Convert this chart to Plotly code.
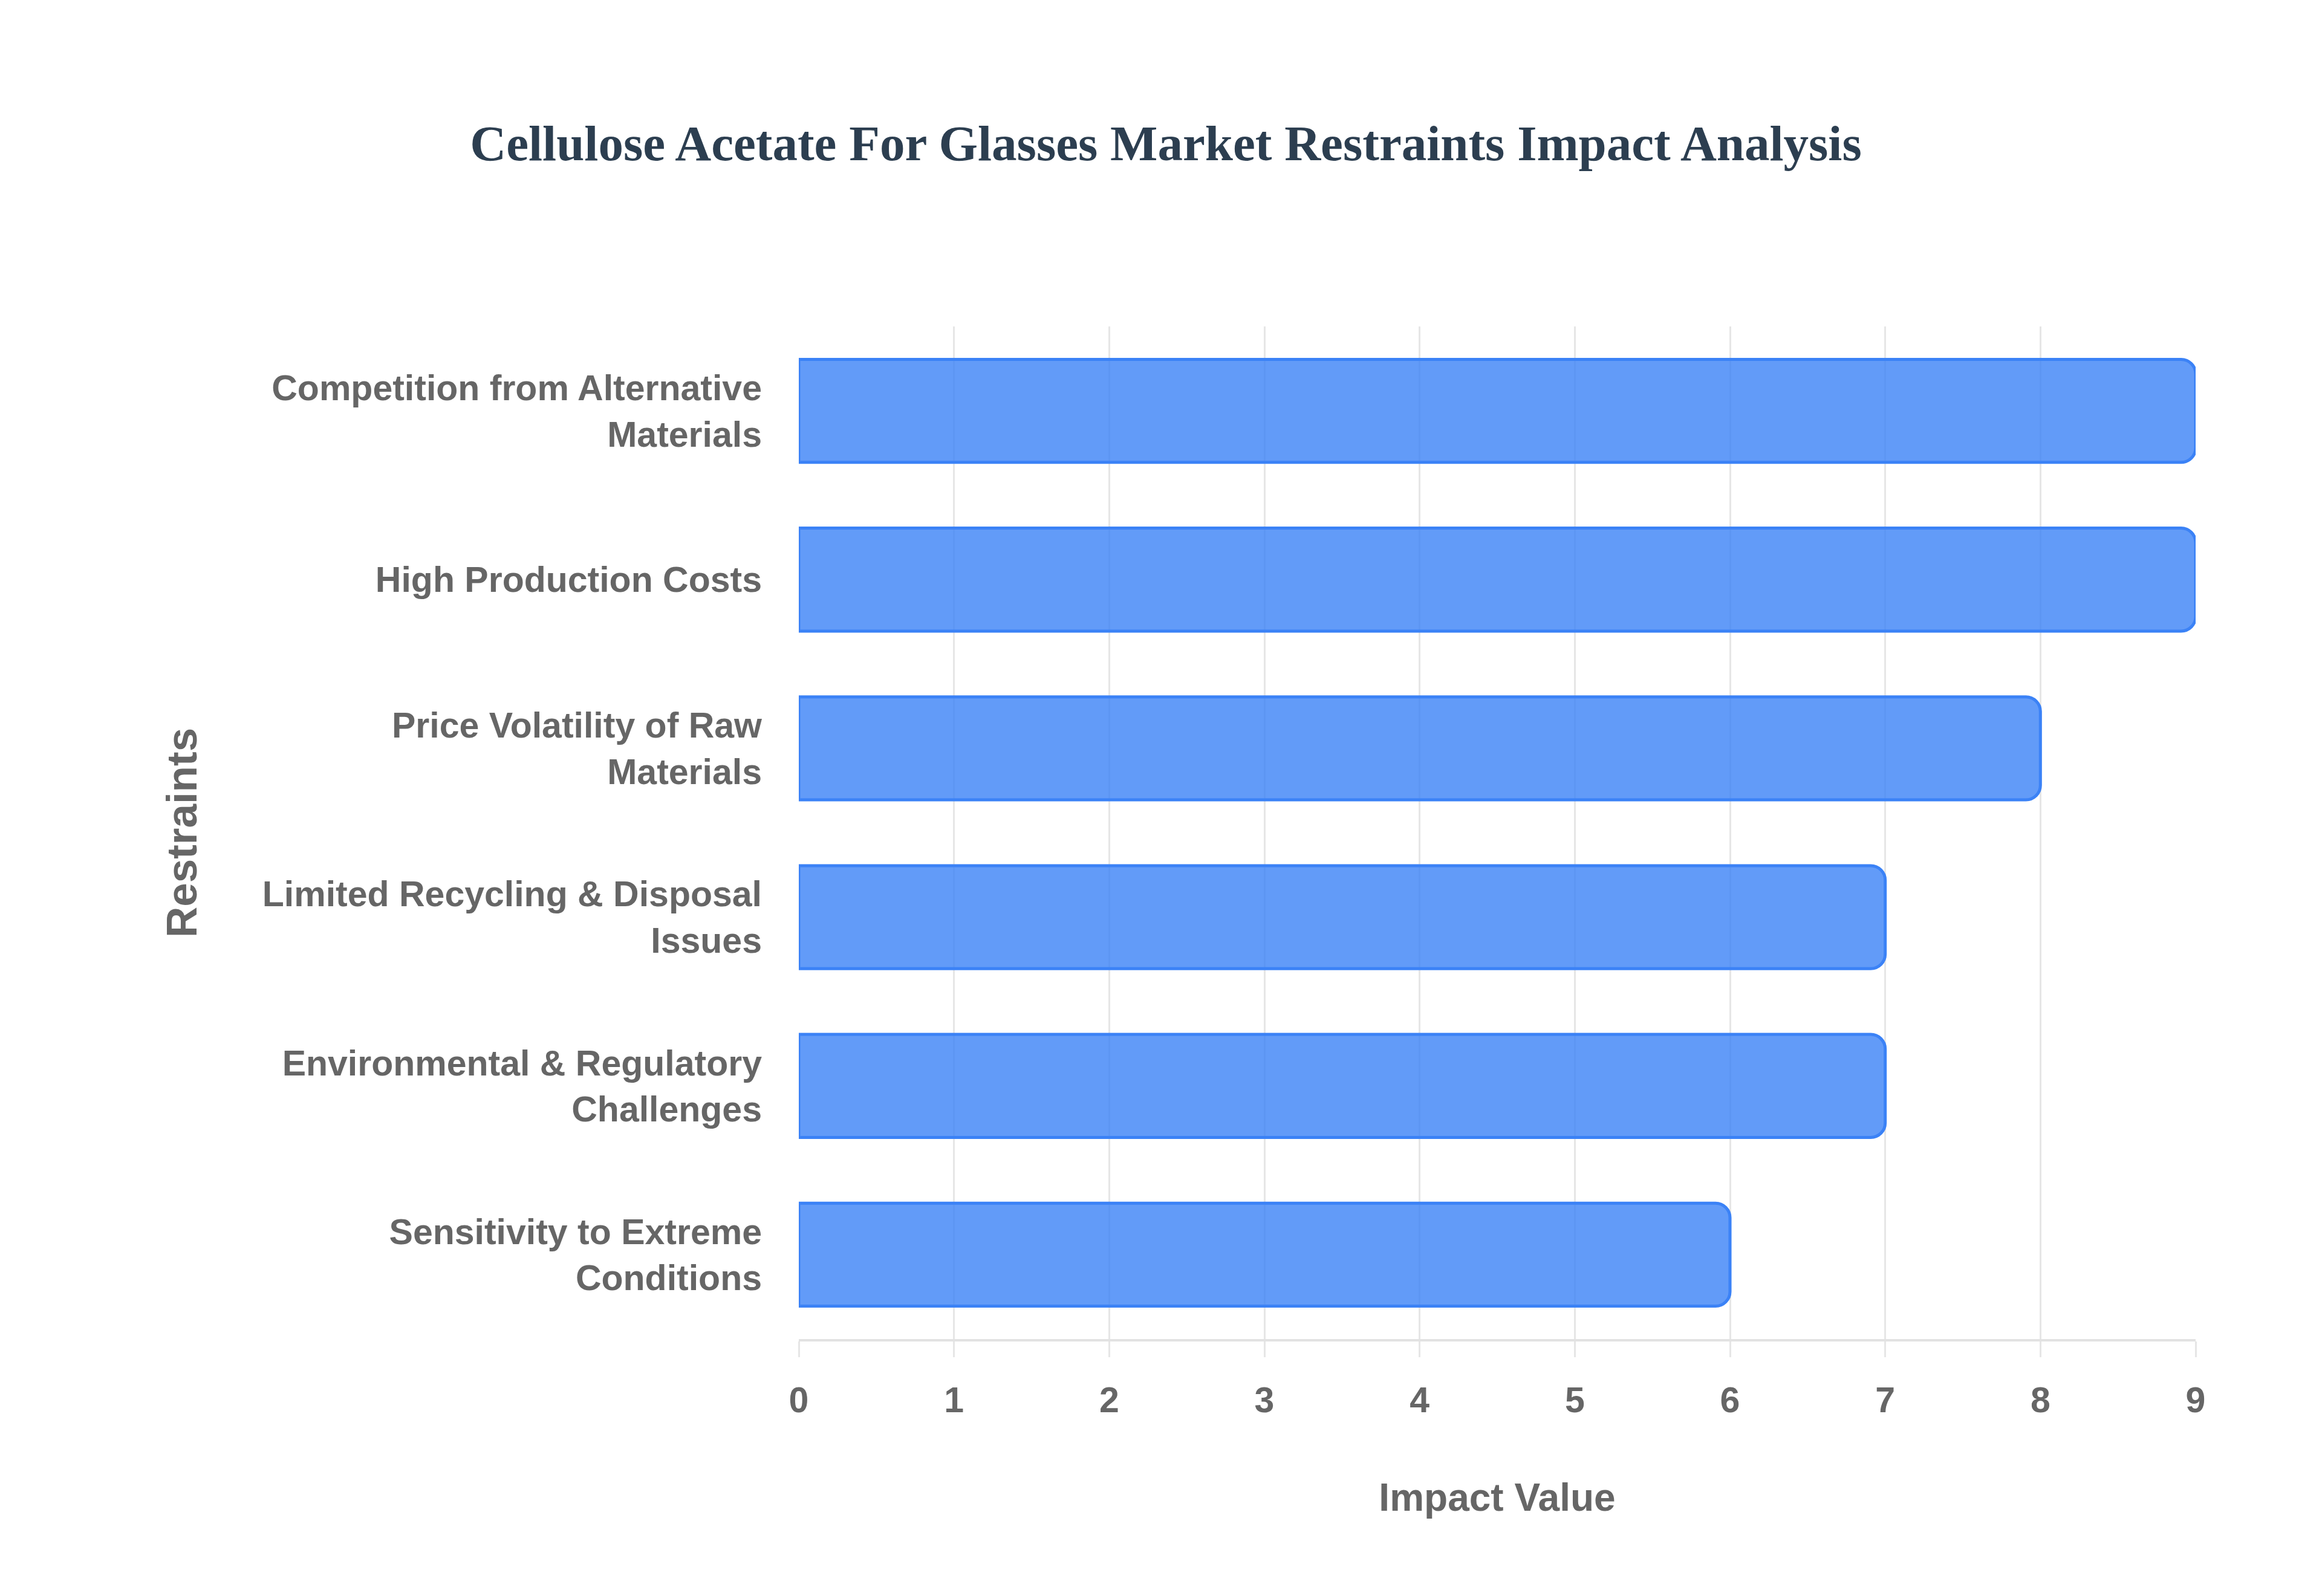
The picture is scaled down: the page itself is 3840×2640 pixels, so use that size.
import plotly.graph_objects as go

# chart data, listed top to bottom as in the picture
restraints = [
    "Competition from Alternative<br>Materials",
    "High Production Costs",
    "Price Volatility of Raw<br>Materials",
    "Limited Recycling & Disposal<br>Issues",
    "Environmental & Regulatory<br>Challenges",
    "Sensitivity to Extreme<br>Conditions",
]
impact = [9, 9, 8, 7, 7, 6]
x_ticks = [0, 1, 2, 3, 4, 5, 6, 7, 8, 9]

fig = go.Figure()
fig.add_trace(go.Bar(
    x=impact, y=restraints, orientation='h',
    marker=dict(color='rgba(59,130,246,0.8)',
                line=dict(color='rgb(59,130,246)', width=5),
                cornerradius=24),
    hoverinfo='x+y', showlegend=False,
))

label_font = dict(family='Liberation Sans, Arial', size=59, color='#666666', weight='bold')

fig.update_layout(
    width=3840, height=2640,
    paper_bgcolor='white', plot_bgcolor='white',
    margin=dict(l=1313, r=217, t=532, b=433),
    bargap=0.39,
    title=dict(
        text='Cellulose Acetate For Glasses Market Restraints Impact Analysis',
        font=dict(family='Liberation Serif, Times New Roman', size=83, color='#2c3e50', weight='bold'),
        x=0.5, xref='container', xanchor='center',
        y=1 - 228 / 2640, yref='container', yanchor='middle',
    ),
    xaxis=dict(
        range=[0, 9], tickvals=x_ticks,
        showgrid=True, gridcolor='#e6e6e6', gridwidth=2.5,
        zeroline=False,
        showline=True, linecolor='#e2e2e2', linewidth=4,
        ticks='outside', ticklen=26, tickwidth=2.5, tickcolor='#e6e6e6',
        ticklabelstandoff=20,
        tickfont=label_font,
        title=dict(text='Impact Value', standoff=107,
                   font=dict(family='Liberation Sans, Arial', size=64, color='#666666', weight='bold')),
    ),
    yaxis=dict(
        autorange='reversed',
        showgrid=False, zeroline=False, showline=False,
        ticks='', ticklabelstandoff=60,
        tickfont=label_font,
        title=dict(text='Restraints', standoff=84,
                   font=dict(family='Liberation Sans, Arial', size=71, color='#666666', weight='bold')),
    ),
)

fig.write_html("out.html")
